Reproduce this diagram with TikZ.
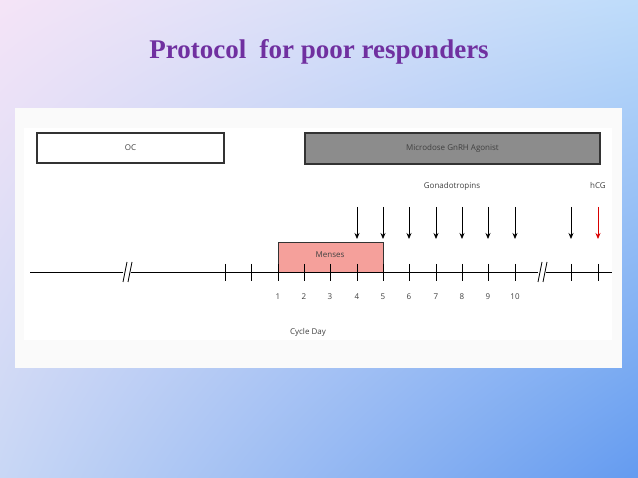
\documentclass[tikz,border=0pt]{standalone}
\usepackage{fontspec}
\setmainfont{Liberation Serif}
\newfontfamily\lab{Open Sans}
\usetikzlibrary{arrows.meta,shadings}
\definecolor{cul}{RGB}{245,228,247}
\definecolor{cur}{RGB}{190,220,250}
\definecolor{cll}{RGB}{200,215,245}
\definecolor{clr}{RGB}{100,155,240}
\definecolor{mens}{RGB}{245,160,155}
\definecolor{ttl}{RGB}{112,48,160}
\begin{document}
\begin{tikzpicture}[x=1pt,y=-1pt,
  tick/.style={thick},
  dose/.style={thick,-{Stealth[length=6pt,width=5pt]}},
  lbl/.style={font=\lab\fontsize{8}{9}\selectfont, text=black!75},
  bar/.style={draw=black!80, line width=1.2pt}]
\shade[upper left=cul, upper right=cur, lower left=cll, lower right=clr]
  (0,0) rectangle (638,478);
\useasboundingbox (0,0) rectangle (638,478);
\node (title) at (319,52) {\fontsize{27}{30}\selectfont\bfseries\color{ttl}Protocol\ \ for poor responders};
\fill[white!96!gray] (15,108) rectangle (622,368);
\fill[white] (24,128) rectangle (612,340);
\node[bar, fill=white, minimum width=187pt, minimum height=30pt, lbl] (oc) at (130.5,148) {OC};
\node[bar, fill=black!45, minimum width=295pt, minimum height=31pt, lbl] (gn) at (452.5,148.5) {Microdose GnRH Agonist};
\node[lbl] (gon) at (452,186) {Gonadotropins};
\node[lbl] (hcg) at (598,186) {hCG};
\node[draw=black!80, thick, fill=mens, minimum width=105pt, minimum height=30pt, anchor=north west] (men) at (278,242) {};
\node[lbl] at (330,255) {Menses};
\coordinate (a0) at (30,272); \coordinate (a1) at (612,272);
\draw[thick] (a0) -- (a1);
\foreach \x in {225,251,571,598} \draw[tick] (\x,264) -- (\x,281);
\foreach \x/\n in {278/1,304/2,330/3,357/4,383/5,409/6,436/7,462/8,488/9,515/10}{
  \draw[tick] (\x,264) -- (\x,281);
  \node[lbl] at (\x,297) {\n};}
\foreach \x in {128,543}{
  \fill[white] (\x-5,262) rectangle (\x+3,282);
  \draw[thick] (\x-5,282) -- (\x-1,262) (\x+0,282) -- (\x+4,262);}
\foreach \x in {357,383,409,436,462,488,515,571}{
  \coordinate (s\x) at (\x,207); \coordinate (e\x) at (\x,239);
  \draw[dose] (s\x) -- (e\x);}
\coordinate (hs) at (598,207); \coordinate (he) at (598,239);
\draw[dose, red!85!black] (hs) -- (he);
\node[lbl] (cd) at (308,332) {Cycle Day};
\end{tikzpicture}
\end{document}
